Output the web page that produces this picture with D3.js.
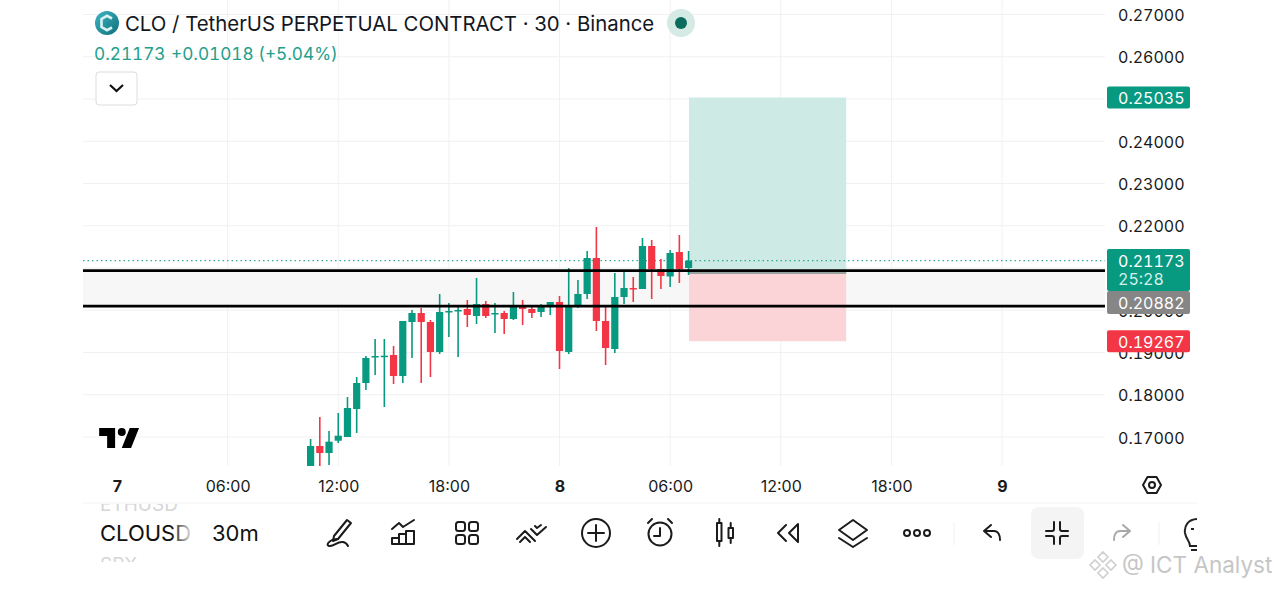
<!DOCTYPE html>
<html>
<head>
<meta charset="utf-8">
<script src="https://cdn.jsdelivr.net/npm/d3@7"></script>
<style>
  html, body { margin: 0; padding: 0; background: #fff; overflow: hidden; }
  text { font-family: Inter, "Noto Sans", sans-serif; }
  .num { font-variant-numeric: tabular-nums; }
  .icon path, .icon circle, .icon rect, .icon line { fill: none; stroke: #1b1b1b; stroke-width: 2; stroke-linecap: round; stroke-linejoin: round; }
</style>
</head>
<body>
<svg id="chart" width="1280" height="589"></svg>
<script>
// half hour candles, index counts from day 7 00:00
const candleIndex = d3.range(21, 63);
const opens  = [0.16314,0.16787,0.16621,0.16912,0.17,0.17663,0.18278,0.18917,0.18924,0.18941,0.18444,0.19722,0.19935,0.19722,0.19012,0.19982,0.20006,0.2003,0.19864,0.20148,0.19935,0.19935,0.19793,0.20101,0.2003,0.19959,0.20077,0.20195,0.19012,0.20077,0.20385,0.21237,0.19746,0.19083,0.20314,0.20527,0.20503,0.21521,0.20976,0.208,0.21379,0.21];
const closes = [0.16787,0.16621,0.16889,0.17031,0.17686,0.18278,0.1887,0.18917,0.18924,0.18444,0.19746,0.19935,0.19722,0.19012,0.19959,0.19982,0.20006,0.19888,0.20148,0.19864,0.19935,0.19793,0.20077,0.2003,0.19935,0.20077,0.20195,0.19035,0.20077,0.20385,0.21237,0.19746,0.19107,0.20314,0.20527,0.20503,0.21521,0.20976,0.20811,0.21355,0.20976,0.21173];
const highs  = [0.16953,0.17473,0.17142,0.17568,0.17947,0.1842,0.18917,0.1932,0.1932,0.19154,0.19746,0.20006,0.20053,0.19769,0.20385,0.20172,0.20077,0.20243,0.20763,0.20219,0.20172,0.19982,0.20432,0.20243,0.20124,0.20148,0.20195,0.20337,0.21,0.20716,0.21402,0.2197,0.20124,0.20882,0.20953,0.20787,0.2171,0.21663,0.21213,0.21426,0.21781,0.21402];
const lows   = [0.16314,0.16314,0.16337,0.16858,0.17,0.17095,0.18112,0.18467,0.1771,0.18254,0.18278,0.1887,0.18278,0.1842,0.18965,0.19367,0.18893,0.19604,0.19675,0.19817,0.19462,0.19438,0.19769,0.19651,0.19817,0.19841,0.19888,0.1861,0.18965,0.20053,0.20266,0.19509,0.18704,0.18988,0.20148,0.20195,0.20503,0.20266,0.20503,0.2055,0.20645,0.20834];

const priceTicks = [0.17,0.18,0.19,0.20,0.21,0.22,0.23,0.24,0.25,0.26,0.27];
const timeTicks = [0,12,24,36,48,60,72,84,96];
const timeLabels = ["7","06:00","12:00","18:00","8","06:00","12:00","18:00","9"];
const dayLabels = ["7","8","9"];

const lastPrice = 0.21173, targetPrice = 0.25035, entryPrice = 0.20882, stopPrice = 0.19267;
const zoneTop = 0.20937, zoneBottom = 0.201;
const positionStart = 62.05, positionEnd = 79.1;

const green = "#089981", red = "#f23645", grid = "#f1f1f1";

const svg = d3.select("#chart");
const x = d3.scaleLinear().domain([0, 96]).range([117, 1002]);
const y = d3.scaleLinear().domain([0.17, 0.27]).range([437, 14.5]);
const left = 83, right = 1105, bottom = 466;

// grid
const gridG = svg.append("g");
gridG.selectAll(".h").data(priceTicks).enter().append("line")
  .attr("x1", left).attr("x2", right).attr("y1", d => y(d)).attr("y2", d => y(d))
  .attr("stroke", grid);
gridG.selectAll(".v").data(timeTicks.slice(1)).enter().append("line")
  .attr("x1", d => x(d)).attr("x2", d => x(d)).attr("y1", 0).attr("y2", bottom)
  .attr("stroke", grid);

// band between the two black levels
svg.append("rect").attr("x", left).attr("width", right - left)
  .attr("y", y(zoneTop)).attr("height", y(zoneBottom) - y(zoneTop)).attr("fill", "#f7f7f7");

// long position tool
svg.append("rect").attr("x", x(positionStart)).attr("width", x(positionEnd) - x(positionStart))
  .attr("y", y(targetPrice)).attr("height", y(entryPrice) - y(targetPrice)).attr("fill", "#cdeae5");
svg.append("rect").attr("x", x(positionStart)).attr("width", x(positionEnd) - x(positionStart))
  .attr("y", y(entryPrice)).attr("height", y(stopPrice) - y(entryPrice)).attr("fill", "#fad4d7");
svg.append("line").attr("x1", x(positionStart)).attr("x2", x(positionEnd))
  .attr("y1", y(entryPrice)).attr("y2", y(entryPrice)).attr("stroke", "#7d8f8a").attr("stroke-width", 1.5);

// last price dotted line
svg.append("line").attr("x1", left).attr("x2", right).attr("y1", y(lastPrice)).attr("y2", y(lastPrice))
  .attr("stroke", green).attr("stroke-width", 1).attr("stroke-dasharray", "1.5 3");

// candles
svg.append("clipPath").attr("id", "plot").append("rect")
  .attr("x", left).attr("y", 0).attr("width", right - left).attr("height", bottom);
const candles = svg.append("g").attr("clip-path", "url(#plot)");
const colorOf = i => closes[i] >= opens[i] ? green : red;
candles.selectAll(".wick").data(candleIndex).enter().append("line")
  .attr("class", "wick")
  .attr("x1", d => x(d)).attr("x2", d => x(d))
  .attr("y1", (d, i) => y(highs[i])).attr("y2", (d, i) => y(lows[i]))
  .attr("stroke", (d, i) => colorOf(i)).attr("stroke-width", 1.6);
candles.selectAll(".body").data(candleIndex).enter().append("rect")
  .attr("class", "body")
  .attr("x", d => x(d) - 3.6).attr("width", 7.2)
  .attr("y", (d, i) => y(Math.max(opens[i], closes[i])))
  .attr("height", (d, i) => Math.max(1.5, Math.abs(y(opens[i]) - y(closes[i]))))
  .attr("fill", (d, i) => colorOf(i));

// the two drawn levels
[zoneTop, zoneBottom].forEach(p => {
  svg.append("line").attr("x1", left).attr("x2", right).attr("y1", y(p)).attr("y2", y(p))
    .attr("stroke", "#000").attr("stroke-width", 2.8);
});

// price axis
const yAxis = d3.axisRight(y).tickValues(priceTicks).tickFormat(d3.format(".5f")).tickSize(0).tickPadding(0);
const yG = svg.append("g").attr("transform", "translate(1118,1)").call(yAxis);
yG.select(".domain").remove();
yG.selectAll("text").attr("class", "num").attr("font-size", 16).attr("fill", "#1a1a1a");

// time axis
const xAxis = d3.axisBottom(x).tickValues(timeTicks).tickFormat((d, i) => timeLabels[i]).tickSize(0).tickPadding(0);
const xG = svg.append("g").attr("transform", "translate(0,481)").call(xAxis);
xG.select(".domain").remove();
xG.selectAll("text").attr("font-size", 16).attr("fill", "#1a1a1a")
  .attr("font-weight", (d, i) => dayLabels.includes(timeLabels[i]) ? 700 : 400);

// price labels on the axis
function priceTag(top, h, color, lines) {
  svg.append("rect").attr("x", 1107).attr("y", top).attr("width", 83).attr("height", h).attr("rx", 2).attr("fill", color);
  lines.forEach((t, i) => {
    svg.append("text").attr("class", "num").attr("x", 1118).attr("y", top + 17.5 + i * 18.5).attr("font-size", 16)
      .attr("fill", i ? "#d5f0ea" : "#fff").text(t);
  });
}
priceTag(y(targetPrice) - 11, 22, green, [d3.format(".5f")(targetPrice)]);
priceTag(249, 42, green, [d3.format(".5f")(lastPrice), "25:28"]);
priceTag(291, 23, "#868686", [d3.format(".5f")(entryPrice)]);
priceTag(y(stopPrice) - 11, 22, red, [d3.format(".5f")(stopPrice)]);

// header
const logoGrad = svg.append("defs").append("linearGradient").attr("id", "logo")
  .attr("x1", 0).attr("y1", 0).attr("x2", 1).attr("y2", 1);
logoGrad.append("stop").attr("offset", 0).attr("stop-color", "#3fb6c4");
logoGrad.append("stop").attr("offset", 1).attr("stop-color", "#0e6f78");
svg.append("circle").attr("cx", 107).attr("cy", 23).attr("r", 12).attr("fill", "url(#logo)");
svg.append("path").attr("d", "M112 18.5 L107 15.8 L101.5 19 L101.5 27 L107 30.2 L112 27.5")
  .attr("fill", "none").attr("stroke", "#d9f3f5").attr("stroke-width", 2.6);
svg.append("text").attr("x", 125).attr("y", 30.5).attr("font-size", 20.37).attr("fill", "#131722")
  .text("CLO / TetherUS PERPETUAL CONTRACT · 30 · Binance");
svg.append("circle").attr("cx", 681).attr("cy", 23).attr("r", 14).attr("fill", "#d5e9e5");
svg.append("circle").attr("cx", 681).attr("cy", 23).attr("r", 6).attr("fill", "#0b6b5d");
svg.append("text").attr("class", "num").attr("x", 94).attr("y", 60).attr("font-size", 17.2).attr("fill", "#22a08c")
  .text("0.21173");
svg.append("text").attr("class", "num").attr("x", 171).attr("y", 60).attr("font-size", 17.2).attr("fill", "#22a08c")
  .text("+0.01018 (+5.04%)");
svg.append("rect").attr("x", 96).attr("y", 72).attr("width", 41).attr("height", 33).attr("rx", 3)
  .attr("fill", "#fff").attr("stroke", "#dcdcdc");
svg.append("path").attr("d", "M110 85 L116.5 91 L123 85").attr("fill", "none").attr("stroke", "#111").attr("stroke-width", 2.2);

// TradingView mark
svg.append("path").attr("transform", "translate(96.5,420) scale(1.33)")
  .attr("d", "M14 6H2v6h6v9h6V6Zm12 15h-7l6-15h7l-6 15Zm-7-9a3 3 0 1 0 0-6 3 3 0 0 0 0 6Z").attr("fill", "#000");

// settings hexagon by the time axis
const hex = svg.append("g").attr("class", "icon").attr("transform", "translate(1152,485)");
hex.append("path").attr("d", "M-4.5 -8 L4.5 -8 L9 0 L4.5 8 L-4.5 8 L-9 0 Z").attr("stroke-width", 1.6);
hex.append("circle").attr("r", 3).attr("stroke-width", 1.6);

// toolbar
svg.append("line").attr("x1", left).attr("x2", 1197).attr("y1", 503).attr("y2", 503).attr("stroke", "#f2f2f2");
const fade = svg.select("defs").append("linearGradient").attr("id", "fade");
fade.append("stop").attr("offset", 0.78).attr("stop-color", "#111");
fade.append("stop").attr("offset", 1).attr("stop-color", "#ddd");
svg.append("clipPath").attr("id", "list").append("rect").attr("x", 90).attr("y", 504).attr("width", 110).attr("height", 58);
const list = svg.append("g").attr("clip-path", "url(#list)");
list.append("text").attr("x", 100).attr("y", 511).attr("font-size", 19).attr("fill", "#d6d6d6").text("ETHUSD");
list.append("text").attr("x", 100).attr("y", 541).attr("font-size", 22).attr("fill", "url(#fade)").text("CLOUSD");
list.append("text").attr("x", 100).attr("y", 571).attr("font-size", 19).attr("fill", "#d6d6d6").text("SPX");
svg.append("text").attr("x", 212).attr("y", 541).attr("font-size", 22).attr("fill", "#111").text("30m");

svg.append("rect").attr("x", 1031).attr("y", 507).attr("width", 53).attr("height", 52).attr("rx", 8).attr("fill", "#f4f4f4");

function icon(cx, draw) {
  const g = svg.append("g").attr("class", "icon").attr("transform", "translate(" + cx + ",533)");
  draw(g);
  return g;
}
icon(340, g => {
  g.append("path").attr("d", "M-6 3 L7 -13 L11 -10 L-2 6 L-7 8 Z");
  g.append("path").attr("d", "M-2 6 C-10 6 -15 12 -11 13 C-6 14 -3 8 3 9 C6 9.5 7 11 8 13");
});
icon(403, g => {
  g.append("path").attr("d", "M-11 -4 L-4 -10 L0 -6 L11 -13");
  g.append("path").attr("d", "M-11 11 V5 H-4 V11 Z M-4 11 V1 H3 V11 Z M3 11 V-2 H11 V11 Z M-11 11 H11");
});
icon(467, g => {
  [-11, 2].forEach(a => [-11, 2].forEach(b => g.append("rect").attr("x", a).attr("y", b).attr("width", 9).attr("height", 9).attr("rx", 2.5)));
});
icon(532, g => {
  g.append("path").attr("d", "M-15 6 L-7 -2 L3 8 M-12 9 L-7 4 L-2 9");
  g.append("path").attr("d", "M-1 -4 L5 2 L14 -6 M3 -7 L5 -5 L9 -8");
});
icon(596, g => {
  g.append("circle").attr("r", 14);
  g.append("path").attr("d", "M-8 0 H8 M0 -8 V8");
});
icon(660, g => {
  g.append("circle").attr("cy", 1).attr("r", 11.5);
  g.append("path").attr("d", "M0 -5 V3 H-6 M-12 -10 L-8 -14 M12 -10 L8 -14");
});
icon(725, g => {
  g.append("rect").attr("x", -8).attr("y", -10).attr("width", 4.5).attr("height", 18);
  g.append("rect").attr("x", 3.5).attr("y", -5).attr("width", 4.5).attr("height", 10);
  g.append("path").attr("d", "M-5.7 -14 V-10 M-5.7 8 V13 M5.7 -10 V-5 M5.7 5 V10");
});
icon(789, g => {
  g.append("path").attr("d", "M-3 -8 L-11 0 L-3 8 M9 -9 L0 0 L9 9 Z");
});
icon(853, g => {
  g.append("path").attr("d", "M0 -13 L14 -3 L0 7 L-14 -3 Z");
  g.append("path").attr("d", "M-14 5 L0 14 L14 5");
});
icon(917, g => {
  [-10, 0, 10].forEach(a => g.append("circle").attr("cx", a).attr("r", 3));
});
icon(992, g => {
  g.append("path").attr("d", "M-1 -8 L-8 -2 L-1 4 M-8 -2 H2 C6 -2 8 2 8 7");
});
icon(1057, g => {
  g.append("path").attr("d", "M-3 -11 V-4 Q-3 -2 -5 -2 H-11 M3 -11 V-4 Q3 -2 5 -2 H11 M-11 3 H-5 Q-3 3 -3 5 V11 M11 3 H5 Q3 3 3 5 V11");
});
icon(1122, g => {
  g.append("path").attr("d", "M1 -8 L8 -2 L1 4 M8 -2 H-2 C-6 -2 -8 2 -8 7");
}).selectAll("path").style("stroke", "#a8a8a8");
svg.append("clipPath").attr("id", "bulbClip").append("rect").attr("x", 1170).attr("y", 510).attr("width", 27).attr("height", 50);
const bulb = svg.append("g").attr("clip-path", "url(#bulbClip)");
bulb.append("path").attr("d", "M1198 519 C1188 519 1184 526 1185 533 C1186 539 1190 541 1190 546 L1198 546 M1191 550 H1198 M1191 529 H1194")
  .attr("fill", "none").attr("stroke", "#222").attr("stroke-width", 2);

// separators
[954, 1159].forEach(d => {
  svg.append("line").attr("x1", d).attr("x2", d).attr("y1", 522).attr("y2", 545).attr("stroke", "#f0f0f0");
});

// watermark
const mark = svg.append("g").attr("transform", "translate(1103,565)").attr("fill", "none").attr("stroke", "#cfcfcf").attr("stroke-width", 1.6);
mark.append("path").attr("d", "M0 -13 L5 -8 L0 -3 L-5 -8 Z M-8 -5 L-3 0 L-8 5 L-13 0 Z M8 -5 L13 0 L8 5 L3 0 Z M0 3 L5 8 L0 13 L-5 8 Z");
svg.append("text").attr("x", 1122).attr("y", 573).attr("font-size", 22.5).attr("fill", "#c6c6c6")
  .text("@ ICT Analyst");
</script>
</body>
</html>
